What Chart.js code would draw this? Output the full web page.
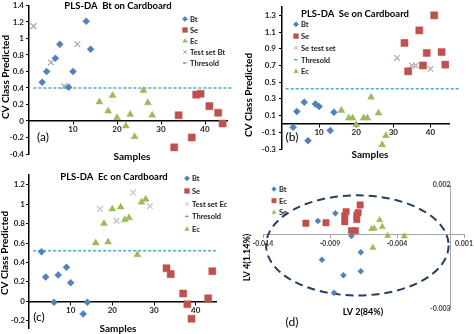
<!DOCTYPE html>
<html>
<head>
<meta charset="utf-8">
<script src="https://cdn.jsdelivr.net/npm/chart.js@4.4.1/dist/chart.umd.min.js"></script>
<style>
  html, body { margin: 0; padding: 0; background: #fff; }
  #wrap { position: relative; width: 474px; height: 334px; overflow: hidden; }
  #wrap canvas { position: absolute; }
</style>
</head>
<body>
<div id="wrap">
  <canvas id="chartA" width="237" height="167" style="left:0;top:0"></canvas>
  <canvas id="chartB" width="237" height="167" style="left:237px;top:0"></canvas>
  <canvas id="chartC" width="237" height="167" style="left:0;top:167px"></canvas>
  <canvas id="chartD" width="237" height="167" style="left:237px;top:167px"></canvas>
</div>
<script>
// sample numbers (x) used by panels a-c
const btSamples = [3, 4, 6, 7, 9, 10, 13, 14];
const ecSamples = [16, 18, 19, 20, 22, 23, 24, 26, 27, 28];
const seSamples = [33, 34, 37, 38, 39, 41, 43, 44];
const seSamplesC = [33, 34, 37, 38, 39, 43, 44];
const testBtSamples = [1, 5, 8, 11];
const testSeSamples = [31, 35, 36, 40];
const testEcSamples = [17, 21, 25, 29];
const sampleTicks = [10, 20, 30, 40];

// (a) PLS-DA Bt
const btA = [0.47, 0.60, 0.76, 0.93, 0.41, 0.60, 1.21, 0.87];
const seA = [-0.32, 0.07, -0.20, 0.32, 0.33, 0.18, 0.10, -0.03];
const ecA = [0.23, 0.12, 0.31, 0.04, -0.06, 0.08, -0.19, 0.37, 0.22, 0.07];
const testBtA = [1.15, 0.71, 0.42, 0.93];
const thresholdA = 0.40;
const thresholdXA = [1, 46.5];
const yTicksA = [-0.4, -0.2, 0, 0.2, 0.4, 0.6, 0.8, 1, 1.2, 1.4];

// (b) PLS-DA Se
const btB = [-0.04, 0.15, 0.26, -0.20, 0.24, 0.21, -0.08, 0.14];
const seB = [0.97, 0.63, 1.12, 0.70, 0.85, 1.30, 0.86, 0.71];
const ecB = [0.16, 0.07, 0.07, -0.01, 0.07, 0.07, 0.32, 0.13, -0.25, -0.14];
const testSeB = [0.79, 0.70, 0.70, 0.66];
const thresholdB = 0.42;
const thresholdXB = [1, 47.7];
const yTicksB = [-0.3, -0.1, 0.1, 0.3, 0.5, 0.7, 0.9, 1.1, 1.3];

// (c) PLS-DA Ec
const btC = [0.51, 0.25, -0.01, 0.27, 0.35, 0.19, -0.13, -0.01];
const seC = [0.34, 0.28, 0.08, -0.03, -0.18, 0.03, 0.31];
const ecC = [0.60, 0.80, 0.61, 0.95, 0.97, 0.84, 0.86, 0.48, 1.02, 1.05];
const testEcC = [0.95, 0.83, 1.12, 0.98];
const thresholdC = 0.52;
const thresholdXC = [1, 44.9];
const yTicksC = [-0.2, 0, 0.2, 0.4, 0.6, 0.8, 1, 1.2];

// (d) scores LV2 vs LV4
const btLV2 = [-0.0099, -0.0086, -0.0074, -0.0067, -0.0096, -0.0080, -0.0067, -0.0087];
const btLV4 = [0.00054, 0.00085, -0.00007, -0.00073, -0.00103, -0.00166, -0.00150, -0.00237];
const ecLV2 = [-0.0108, -0.0093, -0.0079, -0.0079, -0.0078, -0.0070, -0.0070, -0.0069, -0.00675, -0.0074, -0.0071];
const ecLV4 = [0.00045, 0.00047, 0.00051, 0.00075, 0.00092, 0.00060, 0.00078, 0.00088, 0.00119, 0.00015, 0.00015];
const seLV2 = [-0.0053, -0.0051, -0.0059, -0.0057, -0.0047, -0.00345, -0.0058];
const seLV4 = [0.00058, 0.00031, 0.00022, 0.00024, -0.00006, -0.00008, -0.00054];
const ellipseCenter = [-0.00696, -0.00045];
const ellipseRadius = [0.00681, 0.00203];
const xTicksD = [-0.014, -0.009, -0.004, 0.001];
const yTicksD = [-0.003, 0.002];

const BLUE = '#4F81BD';
const RED = '#C0504D';
const GREEN = '#9BBB59';
const CYAN = '#4BACC6';
const FONT = 'Lato, "Open Sans", sans-serif';

function pts(xs, ys) {
  return xs.map((x, i) => ({ x: x, y: ys[i] }));
}

function marks(label, data, style, color, radius) {
  return {
    label: label,
    data: data,
    pointStyle: style,
    pointRadius: radius,
    pointBackgroundColor: color,
    pointBorderColor: color,
    pointBorderWidth: style === 'crossRot' ? 1.2 : 0.5,
    showLine: false
  };
}

function threshold(xs, y) {
  return {
    label: 'Thresold',
    data: xs.map(x => ({ x: x, y: y })),
    showLine: true,
    borderColor: CYAN,
    borderWidth: 1.5,
    borderDash: [3, 2],
    pointRadius: 0,
    clip: false
  };
}

function fixedTicks(list) {
  return s => { s.ticks = list.map(v => ({ value: v })); };
}

// titles, legend, ellipse drawn on top of the chart
function decor(cfg) {
  return {
    id: 'decor',
    beforeDatasetsDraw(chart) {
      if (!cfg.ellipse) return;
      const { x, y } = chart.scales;
      const e = cfg.ellipse;
      const cx = x.getPixelForValue(e.center[0]);
      const cy = y.getPixelForValue(e.center[1]);
      const rx = x.getPixelForValue(e.center[0] + e.radius[0]) - cx;
      const ry = cy - y.getPixelForValue(e.center[1] + e.radius[1]);
      const ctx = chart.ctx;
      ctx.save();
      ctx.strokeStyle = '#243F60';
      ctx.lineWidth = 2;
      ctx.setLineDash([8, 5]);
      ctx.beginPath();
      ctx.ellipse(cx, cy, rx, ry, 0, 0, Math.PI * 2);
      ctx.stroke();
      ctx.restore();
    },
    afterDraw(chart) {
      const ctx = chart.ctx;
      ctx.save();
      ctx.fillStyle = '#000';
      ctx.textAlign = 'center';
      ctx.textBaseline = 'middle';
      cfg.texts.forEach(t => {
        ctx.save();
        ctx.font = t.font + ' ' + FONT;
        ctx.translate(t.x, t.y);
        if (t.rot) ctx.rotate(-Math.PI / 2);
        ctx.fillText(t.text, 0, 0);
        ctx.restore();
      });
      const lg = cfg.legend;
      ctx.font = 'bold 7.5px ' + FONT;
      ctx.textAlign = 'left';
      lg.items.forEach((idx, i) => {
        const ds = chart.data.datasets[idx];
        const y = lg.y + i * lg.gap;
        if (ds.showLine) {
          ctx.strokeStyle = ds.borderColor;
          ctx.lineWidth = 1.5;
          ctx.beginPath();
          ctx.moveTo(lg.x - 2, y);
          ctx.lineTo(lg.x + 1.5, y);
          ctx.stroke();
        } else {
          ctx.fillStyle = ds.pointBackgroundColor;
          ctx.strokeStyle = ds.pointBorderColor;
          ctx.lineWidth = ds.pointStyle === 'crossRot' ? 1 : 0.5;
          Chart.helpers.drawPoint(ctx, {
            pointStyle: ds.pointStyle, rotation: 0,
            radius: ds.pointStyle === 'rect' ? lg.r * 1.3 : lg.r, borderWidth: 1
          }, lg.x, y);
        }
        ctx.fillStyle = '#222';
        ctx.fillText(ds.label, lg.x + 5, y + 0.5);
      });
      ctx.restore();
    }
  };
}

function sampleScales(yMin, yMax, yTicks, yWidth, xMax, yPad) {
  return {
    x: {
      type: 'linear', min: 0, max: xMax, position: { y: 0 },
      afterBuildTicks: fixedTicks(sampleTicks),
      afterFit: s => { s.paddingLeft = 0; s.paddingRight = 0; },
      border: { color: '#000', width: 1.5 },
      grid: { drawOnChartArea: false, color: '#000', tickLength: 3 },
      ticks: { font: { family: FONT, size: 8, weight: 'bold' }, color: '#222', padding: 1,
               maxRotation: 0, autoSkip: false, callback: v => String(v) }
    },
    y: {
      type: 'linear', min: yMin, max: yMax,
      afterBuildTicks: fixedTicks(yTicks),
      afterFit: s => { s.width = yWidth; s.paddingTop = 0; s.paddingBottom = 0; },
      border: { color: '#000', width: 1.5 },
      grid: { drawOnChartArea: false, color: '#000', tickLength: 3 },
      ticks: { font: { family: FONT, size: 8, weight: 'bold' }, color: '#222', padding: yPad,
               autoSkip: false, callback: v => String(v) }
    }
  };
}

function baseOptions(padding, scales) {
  return {
    responsive: false,
    animation: false,
    events: [],
    layout: { padding: padding },
    plugins: { legend: { display: false }, tooltip: { enabled: false } },
    scales: scales
  };
}

// (a)
new Chart(document.getElementById('chartA'), {
  type: 'scatter',
  data: {
    datasets: [
      marks('Bt', pts(btSamples, btA), 'rectRot', BLUE, 3.5),
      marks('Se', pts(seSamples, seA), 'rect', RED, 5),
      marks('Ec', pts(ecSamples, ecA), 'triangle', GREEN, 4),
      marks('Test set Bt', pts(testBtSamples, testBtA), 'crossRot', '#A6A6A6', 4),
      threshold(thresholdXA, thresholdA)
    ]
  },
  options: baseOptions({ left: 0, top: 4, right: 10, bottom: 13 },
    sampleScales(-0.4, 1.4, yTicksA, 29, 45, 2)),
  plugins: [decor({
    texts: [
      { text: 'PLS-DA  Bt on Cardboard', x: 118, y: 6, font: 'bold 9.5px' },
      { text: 'CV Class Predicted', x: 6, y: 77, rot: true, font: 'bold 10px' },
      { text: 'Samples', x: 132, y: 157, font: 'bold 10px' },
      { text: '(a)', x: 43, y: 137, font: '12px' }
    ],
    legend: { x: 185, y: 19, gap: 11, r: 2.6, items: [0, 1, 2, 3, 4] }
  })]
});

// (b)
new Chart(document.getElementById('chartB'), {
  type: 'scatter',
  data: {
    datasets: [
      marks('Bt', pts(btSamples, btB), 'rectRot', BLUE, 3.5),
      marks('Se', pts(seSamples, seB), 'rect', RED, 5),
      marks('Se test set', pts(testSeSamples, testSeB), 'crossRot', '#B9A9A9', 4),
      threshold(thresholdXB, thresholdB),
      marks('Ec', pts(ecSamples, ecB), 'triangle', GREEN, 4)
    ]
  },
  options: baseOptions({ left: 0, top: 7, right: 25, bottom: 18 },
    sampleScales(-0.3, 1.4, yTicksB, 45, 45, 3)),
  plugins: [decor({
    texts: [
      { text: 'PLS-DA  Se on Cardboard', x: 118, y: 14, font: 'bold 9.5px' },
      { text: 'CV Class Predicted', x: 12, y: 95, rot: true, font: 'bold 10px' },
      { text: 'Samples', x: 133, y: 155, font: 'bold 10px' },
      { text: '(b)', x: 55, y: 137, font: '12px' }
    ],
    legend: { x: 59, y: 24.3, gap: 11.8, r: 2.6, items: [0, 1, 2, 3, 4] }
  })]
});

// (c)
new Chart(document.getElementById('chartC'), {
  type: 'scatter',
  data: {
    datasets: [
      marks('Bt', pts(btSamples, btC), 'rectRot', BLUE, 3.5),
      marks('Se', pts(seSamplesC, seC), 'rect', RED, 5),
      marks('Test set Ec', pts(testEcSamples, testEcC), 'crossRot', '#BFBFBF', 4),
      threshold(thresholdXC, thresholdC),
      marks('Ec', pts(ecSamples, ecC), 'triangle', GREEN, 4)
    ]
  },
  options: baseOptions({ left: 0, top: 8, right: 20.5, bottom: 0 },
    sampleScales(-0.28, 1.3, yTicksC, 29, 45, 1)),
  plugins: [decor({
    texts: [
      { text: 'PLS-DA  Ec on Cardboard', x: 114, y: 10, font: 'bold 9.5px' },
      { text: 'CV Class Predicted', x: 5, y: 86, rot: true, font: 'bold 10px' },
      { text: 'Samples', x: 118, y: 162, font: 'bold 10px' },
      { text: '(c)', x: 39, y: 150, font: '12px' }
    ],
    legend: { x: 187, y: 11.3, gap: 12.7, r: 2.6, items: [0, 1, 2, 3, 4] }
  })]
});

// (d)
const axisD = {
  border: { color: '#A6A6A6', width: 1 },
  grid: { drawOnChartArea: false, color: '#A6A6A6', tickLength: 3 },
  ticks: { font: { family: FONT, size: 7, weight: 'bold' }, color: '#404040', padding: 2,
           autoSkip: false, maxRotation: 0, callback: v => String(v) }
};
new Chart(document.getElementById('chartD'), {
  type: 'scatter',
  data: {
    datasets: [
      marks('Bt', pts(btLV2, btLV4), 'rectRot', BLUE, 3),
      marks('Ec', pts(ecLV2, ecLV4), 'rect', RED, 4.5),
      marks('Se', pts(seLV2, seLV4), 'triangle', GREEN, 3.6)
    ]
  },
  options: baseOptions({ left: 26, top: 18, right: 10, bottom: 25.7 }, {
    x: Object.assign({
      type: 'linear', min: -0.014, max: 0.001, position: { y: 0 },
      afterBuildTicks: fixedTicks(xTicksD),
      afterFit: s => { s.paddingLeft = 0; s.paddingRight = 0; }
    }, axisD),
    y: Object.assign({
      type: 'linear', min: -0.003, max: 0.002, position: { x: 0 },
      afterBuildTicks: fixedTicks(yTicksD),
      afterFit: s => { s.paddingTop = 0; s.paddingBottom = 0; }
    }, axisD)
  }),
  plugins: [decor({
    ellipse: { center: ellipseCenter, radius: ellipseRadius },
    texts: [
      { text: 'LV 2(84%)', x: 126, y: 145.5, font: 'bold 9px' },
      { text: 'LV 4(1.14%)', x: 10, y: 90.5, rot: true, font: 'bold 9px' },
      { text: '(d)', x: 55, y: 155, font: '12px' }
    ],
    legend: { x: 37, y: 22, gap: 11.7, r: 2.4, items: [0, 1, 2] }
  })]
});
</script>
</body>
</html>
